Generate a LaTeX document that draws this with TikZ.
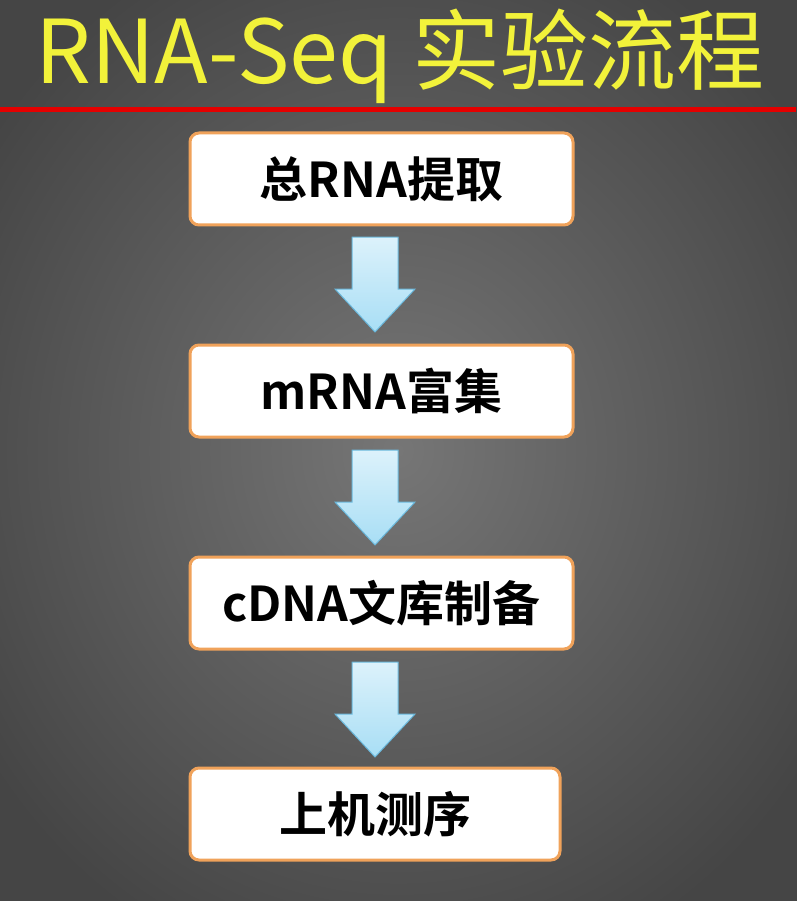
\documentclass[tikz,border=0pt]{standalone}
\usepackage{fontspec}
\setmainfont{Noto Sans CJK SC}
\newfontfamily\cjkb{Noto Sans CJK SC Bold}
\definecolor{ttl}{HTML}{F2F23A}
\definecolor{bord}{HTML}{F0A25A}
\definecolor{arrf}{HTML}{A8DEF5}
\definecolor{arrd}{HTML}{6AB8DC}
\definecolor{bgin}{HTML}{767676}
\definecolor{bgout}{HTML}{454545}
\begin{document}
\begin{tikzpicture}[x=1pt,y=-1pt,
  stepbox/.style={draw=bord,line width=3pt,fill=white,rounded corners=9pt,font=\cjkb\fontsize{48}{56}\selectfont},
  downarr/.style={draw=arrd,line width=1pt,top color=arrf!40!white,bottom color=arrf}]
\useasboundingbox (0,0) rectangle (796,901);
\fill[inner color=bgin, outer color=bgout] (-100,-100) rectangle (896,1001);
\node[text=ttl,font=\fontsize{88}{96}\selectfont] (title) at (400,56) {RNA-Seq 实验流程};
\draw[red!90!black,line width=5pt] (0,110) -- (796,110);
\node[stepbox,minimum width=383pt,minimum height=92pt] (b1) at (381.5,179) {总RNA提取};
\node[stepbox,minimum width=383pt,minimum height=92pt] (b2) at (381.5,391) {mRNA富集};
\node[stepbox,minimum width=383pt,minimum height=92pt] (b3) at (381.5,603) {cDNA文库制备};
\node[stepbox,minimum width=370pt,minimum height=92pt] (b4) at (375,814) {上机测序};
\foreach \n/\y in {a1/237,a2/450,a3/662}{
  \coordinate (\n) at (375,\y);
  \draw[downarr] ([xshift=-23pt]\n) -- ([xshift=23pt]\n) -- ([xshift=23pt,yshift=-52pt]\n) -- ([xshift=40pt,yshift=-52pt]\n) -- ([yshift=-95pt]\n) -- ([xshift=-40pt,yshift=-52pt]\n) -- ([xshift=-23pt,yshift=-52pt]\n) -- cycle;
}
\end{tikzpicture}
\end{document}
